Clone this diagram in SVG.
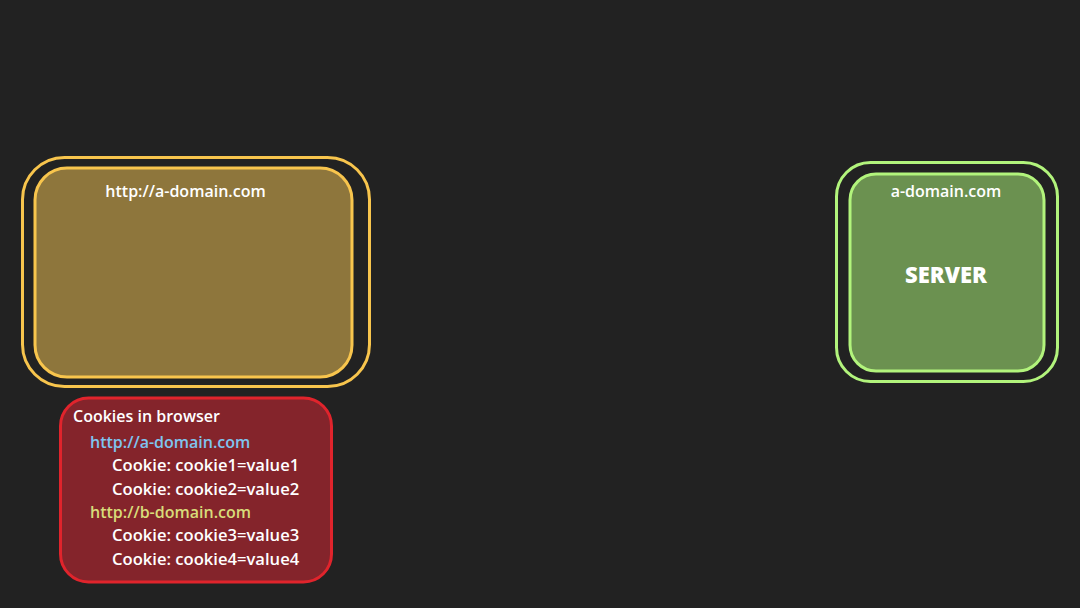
<svg xmlns="http://www.w3.org/2000/svg" width="1080" height="608" viewBox="0 0 1080 608">
<style>
.t{font-family:"Open Sans","Liberation Sans",sans-serif;font-size:16px;font-weight:600;fill:#ffffff}
.c{font-size:16.6px}
.b{fill:#7fc4ef}
.y{fill:#d8dc7a}
</style>
<rect width="1080" height="608" fill="#222222"/>
<g id="browser">
<rect x="22.5" y="157.5" width="347" height="229" rx="42" fill="none" stroke="#f8c54d" stroke-width="3"/>
<rect x="35" y="168" width="317" height="209" rx="32" fill="#8e763c" stroke="#f8c54d" stroke-width="3"/>
<text class="t" x="185.5" y="197" text-anchor="middle">http://a-domain.com</text>
</g>
<g id="server">
<rect x="836.5" y="162.5" width="221" height="219" rx="34" fill="none" stroke="#b2f47c" stroke-width="3"/>
<rect x="850" y="174" width="194" height="197" rx="26" fill="#6b9150" stroke="#b2f47c" stroke-width="3"/>
<text class="t" x="946" y="197" text-anchor="middle">a-domain.com</text>
<text x="946" y="283" text-anchor="middle" style="font-family:'Open Sans','Liberation Sans',sans-serif;font-size:22px;font-weight:800;fill:#ffffff">SERVER</text>
</g>
<g id="cookies">
<rect x="60.5" y="398" width="271" height="184" rx="28" fill="#84242b" stroke="#e0242c" stroke-width="3"/>
<text class="t" x="73" y="422">Cookies in browser</text>
<text class="t b" x="90" y="448">http://a-domain.com</text>
<text class="t c" x="112" y="471">Cookie: cookie1=value1</text>
<text class="t c" x="112" y="495">Cookie: cookie2=value2</text>
<text class="t y" x="90" y="518">http://b-domain.com</text>
<text class="t c" x="112" y="541">Cookie: cookie3=value3</text>
<text class="t c" x="112" y="565">Cookie: cookie4=value4</text>
</g>
<g id="connectors"></g>
</svg>
